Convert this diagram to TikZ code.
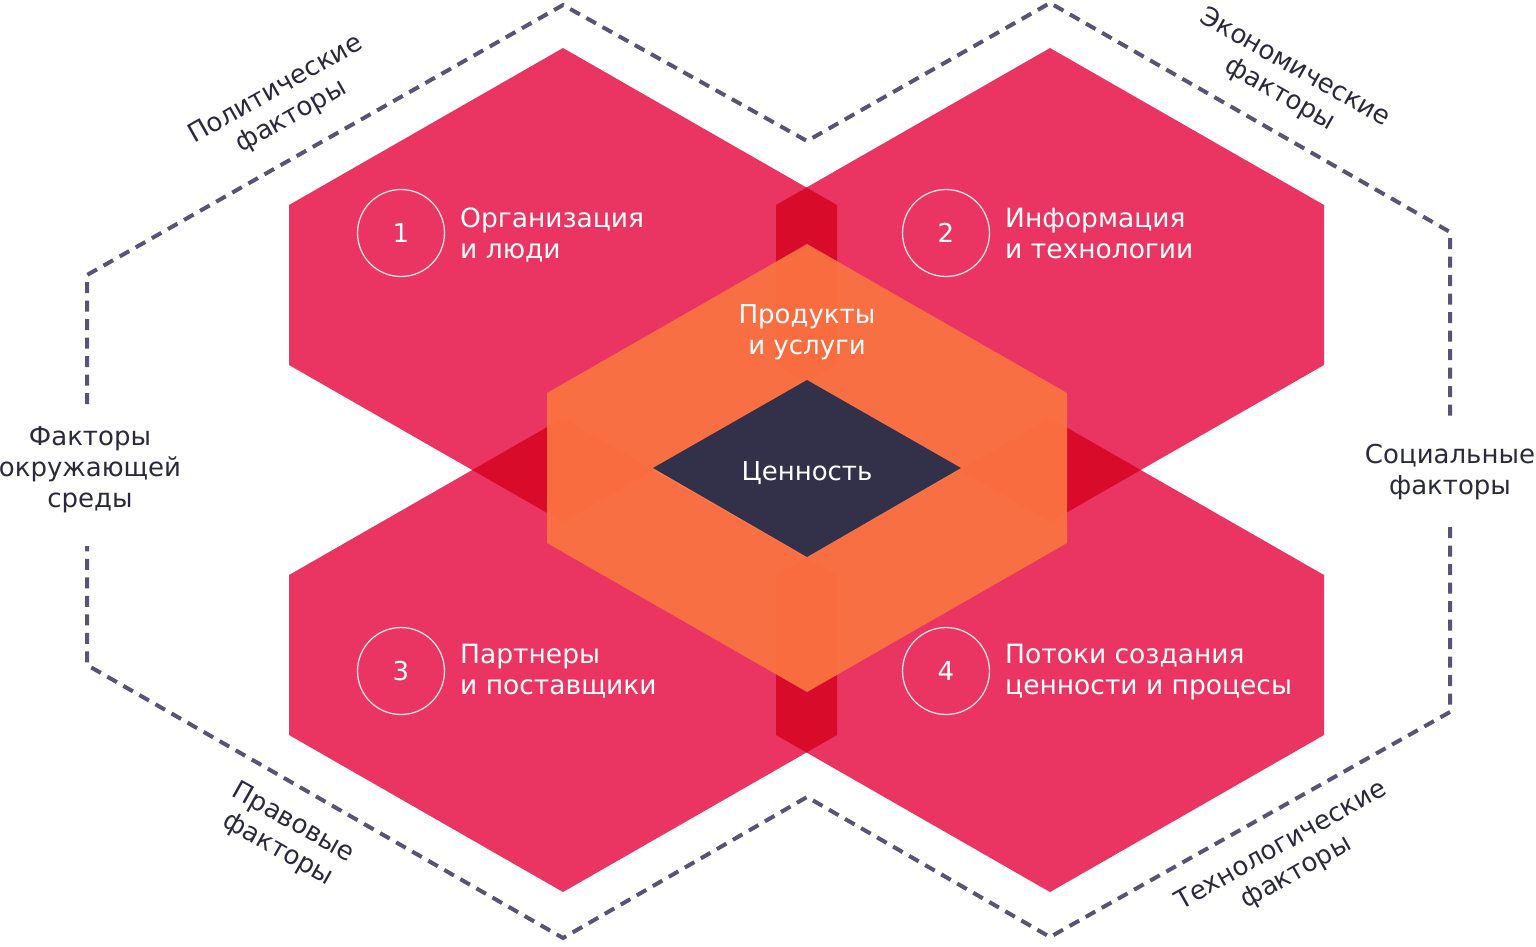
\documentclass[tikz,border=0pt]{standalone}
\usepackage{fontspec}
\setmainfont{DejaVu Sans}
\definecolor{redhex}{RGB}{234,52,98}
\definecolor{ovlred}{RGB}{216,11,42}
\definecolor{orangehex}{RGB}{251,117,66}
\definecolor{darkdia}{RGB}{51,49,74}
\definecolor{dashcol}{RGB}{88,84,118}
\definecolor{txtdark}{RGB}{43,42,60}
\newcommand{\lnst}{\rule[-7pt]{0pt}{31pt}}
\newcommand{\hexpathat}[2]{(#1,#2-237) -- (#1+274,#2-80) -- (#1+274,#2+80) -- (#1,#2+237) -- (#1-274,#2+80) -- (#1-274,#2-80) -- cycle}
\begin{document}
\begin{tikzpicture}[x=1pt,y=-1pt,
  lbl/.style={font=\fontsize{26}{31}\selectfont, text=txtdark, align=center, inner sep=0pt},
  inlbl/.style={font=\fontsize{26.5}{31}\selectfont, text=white, align=left, anchor=west, inner sep=0pt},
  cenlbl/.style={font=\fontsize{26}{31}\selectfont, text=white, align=center, inner sep=0pt},
  numcirc/.style={circle, draw=white, draw opacity=0.85, line width=1.3pt, minimum size=87pt, inner sep=0pt, text=white, font=\fontsize{26}{31}\selectfont},
  framedash/.style={draw=dashcol, line width=4pt, dash pattern=on 11pt off 7.5pt}]
\useasboundingbox (0,0) rectangle (1536,946);
\fill[white] (0,0) rectangle (1536,946);

% outer dashed frame
\coordinate (fa) at (87,404);
\coordinate (fb) at (87,275);
\coordinate (fc) at (563,5);
\coordinate (fd) at (807,141);
\coordinate (fe) at (1050,3);
\coordinate (ff) at (1450,232);
\coordinate (fg) at (1450,420);
\coordinate (fh) at (1450,527);
\coordinate (fi) at (1450,712);
\coordinate (fj) at (1050,937);
\coordinate (fk) at (807,797);
\coordinate (fl) at (563,938);
\coordinate (fm) at (87,665);
\coordinate (fn) at (87,546);
\draw[framedash] (fa) -- (fb) -- (fc) -- (fd) -- (fe) -- (ff) -- (fg);
\draw[framedash] (fh) -- (fi) -- (fj) -- (fk) -- (fl) -- (fm) -- (fn);

% red hexagons
\fill[redhex] \hexpathat{563}{285};
\fill[redhex] \hexpathat{1050}{285};
\fill[redhex] \hexpathat{563}{655};
\fill[redhex] \hexpathat{1050}{655};
% overlaps
\begin{scope}
  \clip \hexpathat{563}{285};
  \fill[ovlred] \hexpathat{1050}{285};
  \fill[ovlred] \hexpathat{563}{655};
\end{scope}
\begin{scope}
  \clip \hexpathat{1050}{655};
  \fill[ovlred] \hexpathat{1050}{285};
  \fill[ovlred] \hexpathat{563}{655};
\end{scope}

% orange hexagon
\fill[orangehex, fill opacity=0.92] (807,244) -- (1067,393) -- (1067,543) -- (807,692) -- (547,543) -- (547,393) -- cycle;
% dark diamond
\fill[darkdia] (653,468) -- (807,380) -- (961,468) -- (807,557) -- cycle;

% texts
\node[cenlbl] (value) at (807,471.5) {\lnst Ценность};
\node[cenlbl] (prod) at (807,330) {\lnst Продукты\\\lnst и услуги};

\node[numcirc] (c1) at (401,233) {1};
\node[numcirc] (c2) at (946,233) {2};
\node[numcirc] (c3) at (401,671) {3};
\node[numcirc] (c4) at (946,671) {4};

\node[inlbl] (t1) at (460,234) {\lnst Организация\\\lnst и люди};
\node[inlbl] (t2) at (1005,234) {\lnst Информация\\\lnst и технологии};
\node[inlbl] (t3) at (460,670) {\lnst Партнеры\\\lnst и поставщики};
\node[inlbl] (t4) at (1005,670) {\lnst Потоки создания\\\lnst ценности и процесы};

% outer labels
\node[lbl] (env) at (90,467.5) {\lnst Факторы\\\lnst окружающей\\\lnst среды};
\node[lbl] (soc) at (1450,470) {\lnst Социальные\\\lnst факторы};
\node[lbl, rotate=29.5] (pol) at (283,102) {\lnst Политические\\\lnst факторы};
\node[lbl, rotate=-29.5] (eco) at (1288,80) {\lnst Экономические\\\lnst факторы};
\node[lbl, rotate=29.5] (tech) at (1288,858) {\lnst Технологические\\\lnst факторы};
\node[lbl, rotate=-29.5] (law) at (286,835) {\lnst Правовые\\\lnst факторы};
\end{tikzpicture}
\end{document}
